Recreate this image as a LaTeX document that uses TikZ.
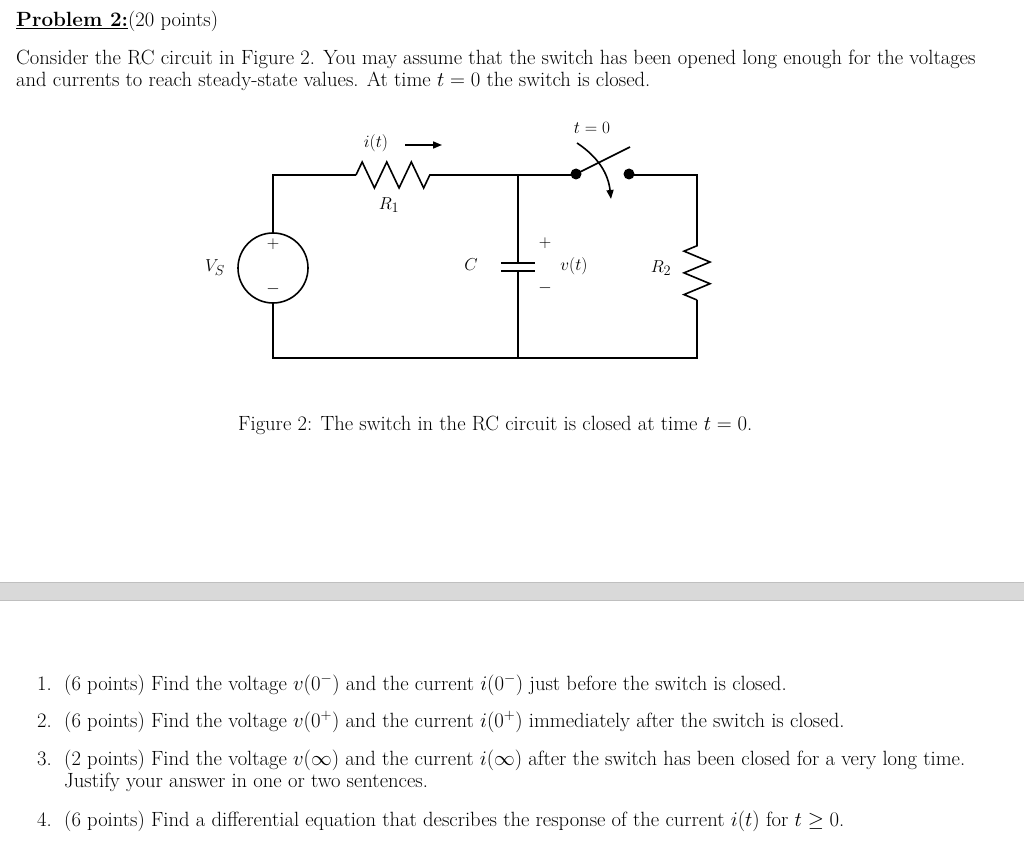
\documentclass[tikz,border=0pt]{standalone}
\usetikzlibrary{decorations.pathmorphing,arrows.meta}
\begin{document}
\begin{tikzpicture}[x=1pt,y=-1pt,
  txt/.style={anchor=base west,inner sep=0pt,font=\fontsize{20.6}{24}\selectfont},
  lbl/.style={inner sep=0pt,font=\fontsize{19}{22}\selectfont},
  wire/.style={line width=1.6pt},
  zz/.style={wire,decorate,decoration={zigzag,segment length=24.6pt,amplitude=13pt}}]
\useasboundingbox (0,0) rectangle (1024,858);
\node[txt] (h) at (16,27) {\underline{\textbf{Problem 2:}}(20 points)};
\node[txt] (p1) at (16,65) {Consider the RC circuit in Figure 2. You may assume that the switch has been opened long enough for the voltages};
\node[txt] (p2) at (16,87) {and currents to reach steady-state values. At time $t=0$ the switch is closed.};
% circuit
\coordinate (tl) at (273,175); \coordinate (bl) at (273,358);
\coordinate (tm) at (518,175); \coordinate (bm) at (518,358);
\coordinate (tr) at (697,175); \coordinate (br) at (697,358);
\node[circle,draw,line width=1.6pt,minimum size=70pt,inner sep=0pt] (vs) at (273,268) {};
\draw[wire] (vs.north) -- (tl) -- (356,175);
\draw[zz] (356,175) -- (430,175);
\draw[wire] (430,175) -- (tm) -- (518,263);
\draw[wire] (518,271) -- (bm);
\draw[wire] (501,263) -- (535,263); \draw[wire] (501,271) -- (535,271);
\draw[wire] (vs.south) -- (bl) -- (br) -- (697,300);
\draw[zz,decoration={segment length=21.7pt}] (697,300) -- (697,235);
\draw[wire] (697,235) -- (tr) -- (629,175);
\draw[wire] (tm) -- (576,175);
\node[circle,fill,inner sep=0pt,minimum size=11pt] (d1) at (576,174) {};
\node[circle,fill,inner sep=0pt,minimum size=11pt] (d2) at (629,174) {};
\draw[wire] (d1.center) -- (630,147);
\draw[wire,-{Triangle[length=9pt,width=7pt]}] (577,143) to[bend left=25] (611,199);
\draw[wire,-{Triangle[length=9pt,width=7pt]}] (405,145) -- (442,145);
\node[lbl] (vsl) at (215,268) {$V_{S}$};
\node[lbl] (plus) at (273,244) {$+$};
\node[lbl] (minus) at (273,289) {$-$};
\node[lbl] (r1) at (389,205) {$R_1$};
\node[lbl] (it) at (376,143) {$i(t)$};
\node[lbl] (t0) at (592,128) {$t=0$};
\node[lbl] (c) at (471,265) {$C$};
\node[lbl] (vp) at (545,243) {$+$};
\node[lbl] (vt) at (574,266) {$v(t)$};
\node[lbl] (vm) at (545,288) {$-$};
\node[lbl] (r2) at (661,268) {$R_2$};
\node[txt] (cap) at (238,430) {Figure 2: The switch in the RC circuit is closed at time $t=0$.};
% band
\fill[gray!30] (0,582) rectangle (1024,600);
\draw[gray!50] (0,582) -- (1024,582); \draw[gray!50] (0,600) -- (1024,600);
\node[txt] (n1) at (37,690) {1.\ \ (6 points) Find the voltage $v(0^-)$ and the current $i(0^-)$ just before the switch is closed.};
\node[txt] (n2) at (37,727) {2.\ \ (6 points) Find the voltage $v(0^+)$ and the current $i(0^+)$ immediately after the switch is closed.};
\node[txt] (n3) at (37,765) {3.\ \ (2 points) Find the voltage $v(\infty)$ and the current $i(\infty)$ after the switch has been closed for a very long time.};
\node[txt] (n3b) at (64,787) {Justify your answer in one or two sentences.};
\node[txt] (n4) at (37,826) {4.\ \ (6 points) Find a differential equation that describes the response of the current $i(t)$ for $t\geq 0$.};
\end{tikzpicture}
\end{document}
